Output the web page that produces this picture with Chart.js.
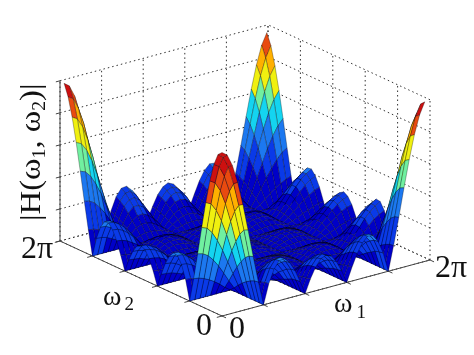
<!DOCTYPE html>
<html>
<head>
<meta charset="utf-8">
<style>
  html, body { margin: 0; padding: 0; background: #fff; }
  canvas { display: block; }
</style>
<script src="https://cdn.jsdelivr.net/npm/chart.js@4"></script>
</head>
<body>
<canvas id="surface-chart" width="474" height="355"></canvas>
<script>
// surface heights, 0..25, first quarter of the grid (0..20 by 0..20).
// the other three quarters repeat it mirrored across the middle
const heightQuarter = [
  [25.0,24.4,22.6,19.8,16.2,12.1,7.8,3.7,0,3.0,5.0,6.1,6.2,5.4,4.0,2.1,0,2.0,3.6,4.7,5.0],
  [24.4,23.8,22.1,19.3,15.8,11.8,7.6,3.6,0,2.9,4.9,6.0,6.1,5.3,3.9,2.0,0,1.9,3.5,4.5,4.9],
  [22.6,22.1,20.4,17.9,14.6,10.9,7.1,3.3,0,2.7,4.5,5.5,5.6,4.9,3.6,1.9,0,1.8,3.3,4.2,4.5],
  [19.8,19.3,17.9,15.7,12.8,9.5,6.2,2.9,0,2.3,4.0,4.8,4.9,4.3,3.1,1.6,0,1.5,2.9,3.7,4.0],
  [16.2,15.8,14.6,12.8,10.5,7.8,5.1,2.4,0,1.9,3.2,4.0,4.0,3.5,2.6,1.3,0,1.3,2.3,3.0,3.2],
  [12.1,11.8,10.9,9.5,7.8,5.8,3.8,1.8,0,1.4,2.4,2.9,3.0,2.6,1.9,1.0,0,0.9,1.7,2.2,2.4],
  [7.8,7.6,7.1,6.2,5.1,3.8,2.4,1.1,0,0.9,1.6,1.9,1.9,1.7,1.2,0.6,0,0.6,1.1,1.5,1.6],
  [3.7,3.6,3.3,2.9,2.4,1.8,1.1,0.5,0,0.4,0.7,0.9,0.9,0.8,0.6,0.3,0,0.3,0.5,0.7,0.7],
  [0,0,0,0,0,0,0,0,0,0,0,0,0,0,0,0,0,0,0,0,0],
  [3.0,2.9,2.7,2.3,1.9,1.4,0.9,0.4,0,0.3,0.6,0.7,0.7,0.6,0.5,0.2,0,0.2,0.4,0.5,0.6],
  [5.0,4.9,4.5,4.0,3.2,2.4,1.6,0.7,0,0.6,1.0,1.2,1.2,1.1,0.8,0.4,0,0.4,0.7,0.9,1.0],
  [6.1,6.0,5.5,4.8,4.0,2.9,1.9,0.9,0,0.7,1.2,1.5,1.5,1.3,1.0,0.5,0,0.5,0.9,1.1,1.2],
  [6.2,6.1,5.6,4.9,4.0,3.0,1.9,0.9,0,0.7,1.2,1.5,1.5,1.3,1.0,0.5,0,0.5,0.9,1.2,1.2],
  [5.4,5.3,4.9,4.3,3.5,2.6,1.7,0.8,0,0.6,1.1,1.3,1.3,1.2,0.9,0.4,0,0.4,0.8,1.0,1.1],
  [4.0,3.9,3.6,3.1,2.6,1.9,1.2,0.6,0,0.5,0.8,1.0,1.0,0.9,0.6,0.3,0,0.3,0.6,0.7,0.8],
  [2.1,2.0,1.9,1.6,1.3,1.0,0.6,0.3,0,0.2,0.4,0.5,0.5,0.4,0.3,0.2,0,0.2,0.3,0.4,0.4],
  [0,0,0,0,0,0,0,0,0,0,0,0,0,0,0,0,0,0,0,0,0],
  [2.0,1.9,1.8,1.5,1.3,0.9,0.6,0.3,0,0.2,0.4,0.5,0.5,0.4,0.3,0.2,0,0.2,0.3,0.4,0.4],
  [3.6,3.5,3.3,2.9,2.3,1.7,1.1,0.5,0,0.4,0.7,0.9,0.9,0.8,0.6,0.3,0,0.3,0.5,0.7,0.7],
  [4.7,4.5,4.2,3.7,3.0,2.2,1.5,0.7,0,0.5,0.9,1.1,1.2,1.0,0.7,0.4,0,0.4,0.7,0.9,0.9],
  [5.0,4.9,4.5,4.0,3.2,2.4,1.6,0.7,0,0.6,1.0,1.2,1.2,1.1,0.8,0.4,0,0.4,0.7,0.9,1.0]
];
const gridSize = 40;
const omegaTicks = [0, 0.2, 0.4, 0.6, 0.8, 1];
const heightTicks = [0, 4.9, 9.8, 14.7, 19.6, 24.5];
const jetBands = ['#0000c8', '#0a3ae8', '#1c78f0', '#14d4f0', '#70f0a0', '#f0f010', '#ffb000', '#e84a10', '#cc1010'];

// oblique view of the box, in canvas pixels
const view = { x0: 222, y0: 316, ux: 208, uy: -56, vx: -162, vy: -75, zScale: 6.54 };

function project(u, v, z) {
  return {
    x: view.x0 + u * view.ux + v * view.vx,
    y: view.y0 + u * view.uy + v * view.vy - z * view.zScale
  };
}

function heightAt(i, j) {
  const a = i > 20 ? gridSize - i : i;
  const b = j > 20 ? gridSize - j : j;
  return heightQuarter[a][b];
}

function gridPoint(i, j) {
  return project(i / gridSize, j / gridSize, heightAt(i, j));
}

function lineSet(points, color, width, dash) {
  return {
    data: points, showLine: true, fill: false, pointRadius: 0,
    borderColor: color, borderWidth: width, borderDash: dash || [], clip: false
  };
}

const datasets = [];

// surface facets: dataset 0 is painted last, so the nearest facet comes first
for (let i = 0; i < gridSize - 1; i++) {
  for (let j = 0; j < gridSize - 1; j++) {
    const band = Math.min(jetBands.length - 1, Math.floor(heightAt(i, j) / 25 * jetBands.length));
    datasets.push({
      data: [gridPoint(i, j), gridPoint(i + 1, j), gridPoint(i + 1, j + 1), gridPoint(i, j + 1), gridPoint(i, j)],
      showLine: true, fill: 'shape', pointRadius: 0, clip: false,
      backgroundColor: jetBands[band], borderColor: 'rgba(0,0,0,0.6)', borderWidth: 0.5
    });
  }
}

// axis lines and tick marks
const axisColor = '#444';
datasets.push(lineSet([project(0, 0, 0), project(1, 0, 0)], axisColor, 1));
datasets.push(lineSet([project(0, 0, 0), project(0, 1, 0)], axisColor, 1));
datasets.push(lineSet([project(0, 1, 0), project(0, 1, 24.5)], axisColor, 1));
omegaTicks.forEach(t => {
  datasets.push(lineSet([project(t, 0, 0), project(t, -0.025, 0)], axisColor, 1));
  datasets.push(lineSet([project(0, t, 0), project(-0.025, t, 0)], axisColor, 1));
});
heightTicks.forEach(h => {
  datasets.push(lineSet([project(0, 1, h), project(-0.02, 1, h)], axisColor, 1));
});

// dotted grid on the floor and the two back walls
const gridColor = '#333';
const gridDash = [1.5, 3];
omegaTicks.forEach(t => {
  datasets.push(lineSet([project(t, 0, 0), project(t, 1, 0)], gridColor, 1, gridDash));
  datasets.push(lineSet([project(0, t, 0), project(1, t, 0)], gridColor, 1, gridDash));
  datasets.push(lineSet([project(t, 1, 0), project(t, 1, 24.5)], gridColor, 1, gridDash));
  datasets.push(lineSet([project(1, t, 0), project(1, t, 24.5)], gridColor, 1, gridDash));
});
heightTicks.forEach(h => {
  datasets.push(lineSet([project(0, 1, h), project(1, 1, h)], gridColor, 1, gridDash));
  datasets.push(lineSet([project(1, 0, h), project(1, 1, h)], gridColor, 1, gridDash));
});

// text runs: [string, font size, baseline drop, gap before]
function drawRuns(ctx, x, y, runs) {
  let cx = x;
  runs.forEach(r => {
    cx += r[3] || 0;
    ctx.font = r[1] + 'px "Liberation Serif"';
    ctx.fillText(r[0], cx, y + r[2]);
    cx += ctx.measureText(r[0]).width;
  });
}

const labelPlugin = {
  id: 'labels',
  afterDraw(chart) {
    const ctx = chart.ctx;
    ctx.save();
    ctx.fillStyle = '#111';
    ctx.textBaseline = 'alphabetic';
    drawRuns(ctx, 21, 258, [['2π', 32, 0]]);
    drawRuns(ctx, 435, 277, [['2π', 32, 0]]);
    drawRuns(ctx, 196, 335, [['0', 32, 0]]);
    drawRuns(ctx, 229, 338, [['0', 32, 0]]);
    drawRuns(ctx, 103, 305, [['ω', 28, 0], ['2', 19, 5, 3]]);
    drawRuns(ctx, 334, 312, [['ω', 28, 0], ['1', 19, 6, 4]]);
    ctx.translate(40, 221);
    ctx.rotate(-Math.PI / 2);
    ctx.scale(1.09, 1);
    drawRuns(ctx, 0, 0, [['|H(ω', 30, 0], ['1', 18, 5], [', ω', 30, 0], ['2', 18, 5], [')|', 30, 0]]);
    ctx.restore();
  }
};

new Chart(document.getElementById('surface-chart'), {
  type: 'scatter',
  data: { datasets: datasets },
  options: {
    responsive: false,
    animation: false,
    events: [],
    layout: { padding: 0 },
    scales: {
      x: { type: 'linear', min: 0, max: 474, display: false },
      y: { type: 'linear', min: 0, max: 355, reverse: true, display: false }
    },
    plugins: { legend: { display: false }, tooltip: { enabled: false } }
  },
  plugins: [labelPlugin]
});
</script>
</body>
</html>
